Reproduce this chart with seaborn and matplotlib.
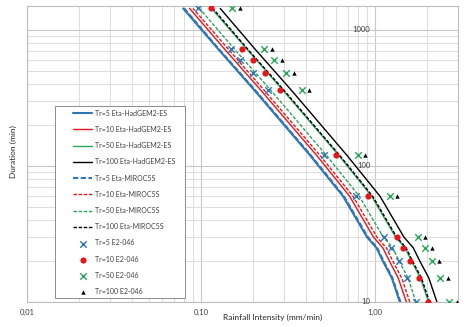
import matplotlib
matplotlib.use("Agg")
import matplotlib.pyplot as plt
import matplotlib.ticker as mticker
from matplotlib.patches import Rectangle
import seaborn as sns
import pandas as pd

# ---------------- data ----------------
durations_line = [10, 15, 20, 25, 30, 60, 120, 360, 720, 1440]
had_tr5 = [1.39, 1.25, 1.11, 1.02, 0.90, 0.655, 0.423, 0.203, 0.126, 0.079]
had_tr10 = [1.515, 1.36, 1.21, 1.11, 0.98, 0.714, 0.461, 0.221, 0.137, 0.086]
had_tr50 = [2.03, 1.825, 1.62, 1.49, 1.314, 0.956, 0.618, 0.296, 0.184, 0.115]
had_tr100 = [2.27, 2.04, 1.81, 1.66, 1.467, 1.068, 0.689, 0.331, 0.205, 0.129]
mir_tr5 = [1.40, 1.26, 1.12, 1.03, 0.91, 0.662, 0.427, 0.205, 0.127, 0.080]
mir_tr10 = [1.585, 1.425, 1.265, 1.163, 1.026, 0.747, 0.482, 0.231, 0.144, 0.090]
mir_tr50 = [1.72, 1.55, 1.376, 1.265, 1.116, 0.812, 0.525, 0.252, 0.156, 0.098]
mir_tr100 = [2.06, 1.85, 1.643, 1.51, 1.332, 0.969, 0.626, 0.300, 0.186, 0.117]

durations_obs = [10, 15, 20, 25, 30, 60, 120, 360, 480, 600, 720, 1440]
obs_tr5 = [1.71, 1.52, 1.37, 1.24, 1.13, 0.778, 0.511, 0.244, 0.198, 0.168, 0.148, 0.096]
obs_tr10 = [2.01, 1.79, 1.60, 1.45, 1.33, 0.915, 0.597, 0.286, 0.232, 0.198, 0.173, 0.114]
obs_tr50 = [2.66, 2.37, 2.12, 1.94, 1.77, 1.22, 0.795, 0.379, 0.308, 0.263, 0.229, 0.150]
obs_tr100 = [2.95, 2.64, 2.34, 2.14, 1.94, 1.34, 0.877, 0.418, 0.341, 0.291, 0.255, 0.168]

x_ticks = [0.01, 0.1, 1.0]
x_tick_labels = ["0,01", "0,10", "1,00"]
y_ticks = [10, 100, 1000]
y_tick_labels = ["10", "100", "1000"]

# ---------------- style ----------------
sns.set_theme(style="white")
plt.rcParams["font.family"] = ["Lato", "DejaVu Sans"]

BLUE = "#2e75b6"
RED = "#e8161b"
GREEN = "#2aa55a"
BLACK = "#000000"

fig = plt.figure(figsize=(4.74, 3.27), dpi=100)
ax = fig.add_axes([27 / 474, 25 / 327, (458 - 27) / 474, (302 - 6) / 327])
ax.set_xscale("log")
ax.set_yscale("log")

lines = [
    ("Tr=5 Eta-HadGEM2-ES", had_tr5, BLUE, "-", 1.5),
    ("Tr=10 Eta-HadGEM2-ES", had_tr10, RED, "-", 1.0),
    ("Tr=50 Eta-HadGEM2-ES", had_tr50, GREEN, "-", 1.0),
    ("Tr=100 Eta-HadGEM2-ES", had_tr100, BLACK, "-", 1.0),
    ("Tr=5 Eta-MIROC5S", mir_tr5, BLUE, "--", 1.5),
    ("Tr=10 Eta-MIROC5S", mir_tr10, RED, "--", 1.0),
    ("Tr=50 Eta-MIROC5S", mir_tr50, GREEN, "--", 1.0),
    ("Tr=100 Eta-MIROC5S", mir_tr100, BLACK, "--", 1.0),
]
for label, vals, col, ls, lw in lines:
    df = pd.DataFrame({"i": vals, "d": durations_line})
    sns.lineplot(data=df, x="i", y="d", ax=ax, color=col, lw=lw, label=label,
                 sort=False, estimator=None)
    ln = ax.get_lines()[-1]
    if ls == "--":
        ln.set_dashes((2.5, 1.2))

points = [
    ("Tr=5 E2-046", obs_tr5, BLUE, "x", 22, 1.0),
    ("Tr=10 E2-046", obs_tr10, RED, "o", 20, 0),
    ("Tr=50 E2-046", obs_tr50, GREEN, "x", 22, 1.0),
    ("Tr=100 E2-046", obs_tr100, BLACK, "^", 10, 0),
]
for label, vals, col, mk, s, lw in points:
    df = pd.DataFrame({"i": vals, "d": durations_obs})
    sns.scatterplot(data=df, x="i", y="d", ax=ax, color=col, marker=mk, s=s,
                    linewidth=lw, label=label, zorder=5)

ax.set_xlim(0.01, 3.0)
ax.set_ylim(10, 1500)

# grid
ax.xaxis.set_major_locator(mticker.LogLocator(base=10))
ax.xaxis.set_minor_locator(mticker.LogLocator(base=10, subs=range(2, 10)))
ax.yaxis.set_major_locator(mticker.LogLocator(base=10))
ax.yaxis.set_minor_locator(mticker.LogLocator(base=10, subs=range(2, 10)))
ax.grid(which="major", color="#c8c8c8", lw=0.8)
ax.grid(which="minor", color="#dcdcdc", lw=0.7)
ax.set_axisbelow(True)

ax.set_xticks(x_ticks)
ax.set_xticklabels(x_tick_labels)
ax.xaxis.set_minor_formatter(mticker.NullFormatter())
ax.tick_params(axis="x", which="both", length=0, pad=5, labelsize=5.5,
               labelcolor="#404040")
ax.set_yticks(y_ticks)
ax.set_yticklabels([])
ax.yaxis.set_minor_formatter(mticker.NullFormatter())
ax.tick_params(axis="y", which="both", length=0)
for yv, lab in zip(y_ticks, y_tick_labels):
    ax.text(0.94, yv, lab, ha="right", va="center", fontsize=5.5, color="#404040")

for sp in ax.spines.values():
    sp.set_color("#bdbdbd")
    sp.set_linewidth(0.8)

ax.set_xlabel("")
ax.set_ylabel("")
fig.text(273 / 474, 1 - 317 / 327, "Rainfall Intensity (mm/min)", ha="center",
         va="center", fontsize=6, color="#262626")
fig.text(13 / 474, 1 - 152 / 327, "Duration (min)", ha="center", va="center",
         rotation=90, fontsize=6, color="#262626")

# legend frame drawn separately, legend content placed inside
ax.add_patch(Rectangle((0.065, 0.0135), 0.302, 0.6485, transform=ax.transAxes,
                       facecolor="white", edgecolor="#8c8c8c", lw=0.7, zorder=6))
handles, labels = ax.get_legend_handles_labels()
leg = ax.legend(handles, labels, loc="upper left",
                bbox_to_anchor=(0.107, 0.650),
                fontsize=5, frameon=False,
                labelspacing=1.33, handlelength=2.75, handletextpad=0.35,
                borderpad=0, borderaxespad=0)
leg.set_zorder(7)
for t in leg.get_texts():
    t.set_color("#404040")

fig.savefig("out.png", dpi=100)
